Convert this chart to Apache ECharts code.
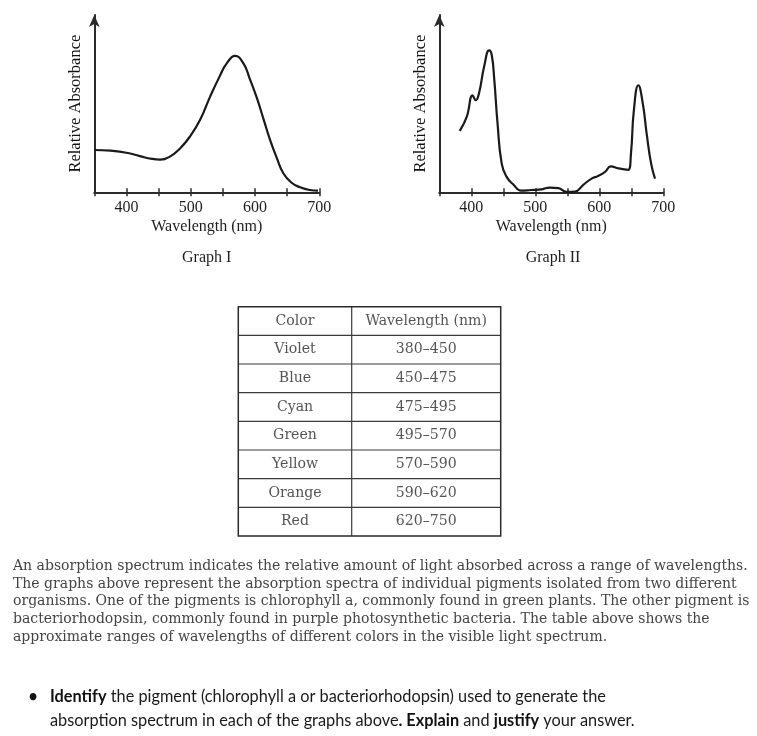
<!DOCTYPE html>
<html><head><meta charset="utf-8">
<script src="https://cdn.jsdelivr.net/npm/echarts@6.0.0/dist/echarts.min.js"></script>
<style>html,body{margin:0;padding:0;background:#fff;}#chart{width:757px;height:736px;}</style>
</head><body><div id="chart"></div>
<script>
// ---- Data ----
const graph1Wavelengths = [350,375,400,421,440,452,467,483,499,515,530,545,556,569,582,592,603,613,623,634,644,657,670,685,698];
const graph1Absorbance  = [0.31,0.305,0.29,0.265,0.245,0.24,0.26,0.32,0.41,0.535,0.70,0.85,0.945,1.0,0.945,0.83,0.69,0.54,0.39,0.25,0.14,0.07,0.037,0.017,0.012];
const graph2Wavelengths = [382,393,402,407,412,420,428,432,436,441,447.5,455,466,478,494,510,523,536,549,562,575,588,598,609,618,630,645,649.5,654,661,668,674,681,687];
const graph2Absorbance  = [0.45,0.555,0.71,0.675,0.725,0.92,1.04,1.005,0.82,0.505,0.21,0.115,0.055,0.012,0.017,0.022,0.035,0.03,0.003,0.005,0.055,0.10,0.12,0.15,0.19,0.175,0.165,0.285,0.60,0.785,0.65,0.43,0.21,0.10];
const xTickLabels = [400,500,600,700];
const graphTitles = ['Graph I','Graph II'];
const tableHeader = ['Color','Wavelength (nm)'];
const tableColors = ['Violet','Blue','Cyan','Green','Yellow','Orange','Red'];
const tableRanges = ['380–450','450–475','475–495','495–570','570–590','590–620','620–750'];
const paragraphLines = [
  'An absorption spectrum indicates the relative amount of light absorbed across a range of wavelengths.',
  'The graphs above represent the absorption spectra of individual pigments isolated from two different',
  'organisms. One of the pigments is chlorophyll a, commonly found in green plants. The other pigment is',
  'bacteriorhodopsin, commonly found in purple photosynthetic bacteria. The table above shows the',
  'approximate ranges of wavelengths of different colors in the visible light spectrum.'
];
const bulletLines = [
  '{b|Identify} the pigment (chlorophyll a or bacteriorhodopsin) used to generate the',
  'absorption spectrum in each of the graphs above{b|. Explain} and {b|justify} your answer.'
];

// ---- helpers ----
const cv = document.createElement('canvas').getContext('2d');
function fitSize(text, family, weight, target){
  cv.font = weight + ' 100px ' + family;
  return 100 * target / cv.measureText(text).width;
}
const SERIF = '"Liberation Serif", "Times New Roman", serif';
const TABLE_FONT = '"DejaVu Serif", serif';
const BULLET_FONT = 'Lato, "Open Sans", sans-serif';
const axisColor = '#2a2a2a';

const grids = [
  {left: 94.3, top: 15, width: 225, height: 177.3},
  {left: 439.3, top: 15, width: 224, height: 177.3}
];
const xAxes = [], yAxes = [], series = [];
const datasets = [[graph1Wavelengths, graph1Absorbance],[graph2Wavelengths, graph2Absorbance]];
grids.forEach((g, i) => {
  const labelStyle = {fontFamily: SERIF, fontSize: 16, color: '#1e1e1e'};
  xAxes.push({
    type: 'value', gridIndex: i, min: 350, max: 700, interval: 50,
    axisLine: {show: true, onZero: false, lineStyle: {color: axisColor, width: 2}},
    axisTick: {show: true, inside: false, length: 4, lineStyle: {color: axisColor, width: 1.5}},
    axisLabel: Object.assign({margin: 7, showMinLabel: true, showMaxLabel: true,
      formatter: v => xTickLabels.includes(v) ? String(v) : ''}, labelStyle),
    splitLine: {show: false},
    name: 'Wavelength (nm)', nameLocation: 'middle', nameGap: 26,
    nameTextStyle: Object.assign({}, labelStyle)
  });
  xAxes.push({
    type: 'value', gridIndex: i, min: 350, max: 700, interval: 50, position: 'bottom',
    axisLine: {show: false},
    axisTick: {show: true, inside: true, length: 4, lineStyle: {color: axisColor, width: 1.5}},
    axisLabel: {show: false}, splitLine: {show: false}
  });
  yAxes.push({
    type: 'value', gridIndex: i, min: 0, max: 1.3,
    axisLine: {show: true, symbol: ['none','arrow'], symbolSize: [8, 12], lineStyle: {color: axisColor, width: 2}},
    axisTick: {show: false}, axisLabel: {show: false}, splitLine: {show: false},
    name: 'Relative Absorbance', nameLocation: 'middle', nameGap: 10, nameRotate: 90,
    nameTextStyle: Object.assign({}, labelStyle, {fontSize: 16.5, color: '#111'})
  });
  const [xs, ys] = datasets[i];
  series.push({
    type: 'line', xAxisIndex: 2*i, yAxisIndex: i, symbol: 'none', smooth: 0.5,
    clip: false,
    lineStyle: {color: '#1a1a1a', width: 2.2},
    data: xs.map((x, k) => [x, ys[k]])
  });
});

// ---- graphic: titles, table, text ----
const graphic = [];
graphTitles.forEach((t, i) => {
  graphic.push({type: 'text', x: [206.7, 553][i], y: 258,
    style: {text: t, fontFamily: SERIF, fontSize: 16, fill: '#1e1e1e', textAlign: 'center', textVerticalAlign: 'middle'}});
});

const tLeft = 238.3, tRight = 500.7, tMid = 351.7, tTop = 306.7, rowH = 28.66;
const nRows = tableColors.length + 1;
const tBottom = tTop + rowH * nRows;
const tSize = fitSize(tableHeader[1], TABLE_FONT, 'normal', 121.7);
for (let r = 1; r < nRows; r++) {
  graphic.push({type: 'line', shape: {x1: tLeft, y1: tTop + r*rowH, x2: tRight, y2: tTop + r*rowH},
    style: {stroke: '#3a3a3a', lineWidth: 1.2}});
}
graphic.push({type: 'line', shape: {x1: tMid, y1: tTop, x2: tMid, y2: tBottom}, style: {stroke: '#3a3a3a', lineWidth: 1.2}});
graphic.push({type: 'rect', shape: {x: tLeft, y: tTop, width: tRight - tLeft, height: tBottom - tTop},
  style: {fill: 'none', stroke: '#2a2a2a', lineWidth: 1.5}});
const rows = [tableHeader].concat(tableColors.map((c, k) => [c, tableRanges[k]]));
rows.forEach((row, r) => {
  const cy = tTop + rowH * (r + 0.5);
  graphic.push({type: 'text', x: (tLeft + tMid)/2, y: cy,
    style: {text: row[0], fontFamily: TABLE_FONT, fontSize: tSize, fill: '#555', textAlign: 'center', textVerticalAlign: 'middle'}});
  graphic.push({type: 'text', x: (tMid + tRight)/2, y: cy,
    style: {text: row[1], fontFamily: TABLE_FONT, fontSize: tSize, fill: '#555', textAlign: 'center', textVerticalAlign: 'middle'}});
});

const pSize = fitSize(paragraphLines[0], TABLE_FONT, 'normal', 735);
paragraphLines.forEach((line, k) => {
  graphic.push({type: 'text', x: 13, y: 566.5 + k * 17.6,
    style: {text: line, fontFamily: TABLE_FONT, fontSize: pSize, fill: '#444', textAlign: 'left', textVerticalAlign: 'middle'}});
});

const bSize = fitSize(bulletLines[0].replace(/\{b\||\}/g, ''), BULLET_FONT, 'normal', 555);
graphic.push({type: 'text', x: 33, y: 697,
  style: {text: '•', fontFamily: BULLET_FONT, fontSize: bSize + 2, fill: '#111', textAlign: 'center', textVerticalAlign: 'middle'}});
bulletLines.forEach((line, k) => {
  graphic.push({type: 'text', x: 50, y: 697 + k * 24,
    style: {text: line, fontFamily: BULLET_FONT, fontSize: bSize, fill: '#1a1a1a', textAlign: 'left', textVerticalAlign: 'middle',
      rich: {b: {fontFamily: BULLET_FONT, fontSize: bSize, fontWeight: 'bold', fill: '#111'}}}});
});

const chart = echarts.init(document.getElementById('chart'), null, {renderer: 'canvas'});
chart.setOption({
  animation: false,
  backgroundColor: '#fff',
  grid: grids,
  xAxis: xAxes,
  yAxis: yAxes,
  series: series,
  graphic: graphic
});
</script></body></html>
